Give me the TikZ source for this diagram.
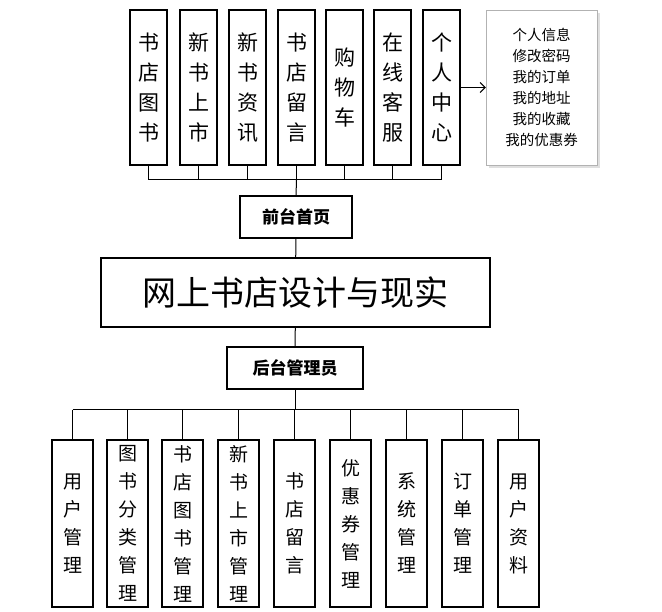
\documentclass[tikz,border=0pt]{standalone}
\usepackage{fontspec}
\setmainfont{Noto Sans CJK SC}
\usetikzlibrary{arrows.meta}
\begin{document}
\begin{tikzpicture}[x=1pt,y=-1pt,
  topbox/.style={draw,line width=1.2pt,minimum width=37pt,minimum height=155pt,inner sep=0pt,align=center,font=\fontsize{21}{30}\selectfont},
  botbox/.style={draw,line width=1.2pt,minimum width=41pt,minimum height=167pt,inner sep=0pt,align=center,font=\fontsize{19}{28}\selectfont},
  midbox/.style={draw,line width=1.2pt,inner sep=0pt,font=\bfseries\fontsize{17}{20}\selectfont},
  ln/.style={line width=1pt}]
\useasboundingbox (0,0) rectangle (662,612);
\foreach \x/\t [count=\i] in {148.5/书\\店\\图\\书,198.5/新\\书\\上\\市,247.5/新\\书\\资\\讯,296.5/书\\店\\留\\言,344.5/购\\物\\车,392.5/在\\线\\客\\服,441.5/个\\人\\中\\心}
  \node[topbox] (t\i) at (\x,87.5) {\t};
\fill[gray!25] (489,13) rectangle (600,168);
\node[draw=gray!60,fill=white,minimum width=111pt,minimum height=155pt,inner sep=0pt,align=center,font=\fontsize{14.5}{21}\selectfont] (info) at (541.5,87.5) {个人信息\\修改密码\\我的订单\\我的地址\\我的收藏\\我的优惠券};
\draw[ln,-{Straight Barb[length=5pt,width=10pt]}] (t7.east) -- (info.west);
\node[midbox,minimum width=112pt,minimum height=42pt] (qt) at (296,217) {前台首页};
\node[draw,line width=1.2pt,minimum width=389pt,minimum height=69pt,font=\fontsize{34}{40}\selectfont] (main) at (295.5,292.5) {网上书店设计与现实};
\node[midbox,minimum width=136pt,minimum height=42pt] (ht) at (295,368) {后台管理员};
\coordinate (hy) at (0,180);
\foreach \i in {1,...,7} \draw[ln] (t\i.south) -- (t\i.south |- hy);
\draw[ln] (t1.south |- hy) -- (t7.south |- hy);
\draw[ln] (t4.south |- hy) -- (qt.north);
\draw[ln] (qt) -- (main);
\draw[ln] (main) -- (ht);
\foreach \x/\t [count=\i] in {72.5/用\\户\\管\\理,127.5/图\\书\\分\\类\\管\\理,182.5/书\\店\\图\\书\\管\\理,238.5/新\\书\\上\\市\\管\\理,294.5/书\\店\\留\\言,350.5/优\\惠\\券\\管\\理,406.5/系\\统\\管\\理,462.5/订\\单\\管\\理,518.5/用\\户\\资\\料}
  \node[botbox] (b\i) at (\x,523.5) {\t};
\coordinate (ly) at (0,410);
\draw[ln] (ht.south) -- (ht.south |- ly);
\draw[ln] (b1.north |- ly) -- (b9.north |- ly);
\foreach \i in {1,...,9} \draw[ln] (b\i.north |- ly) -- (b\i.north);
\end{tikzpicture}
\end{document}
